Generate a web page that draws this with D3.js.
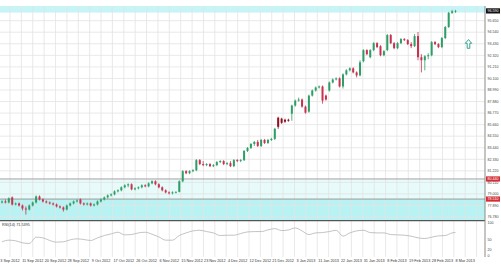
<!DOCTYPE html>
<html><head><meta charset="utf-8">
<script src="https://cdn.jsdelivr.net/npm/d3@7"></script>
<style>html,body{margin:0;padding:0;background:#fff;overflow:hidden}svg{display:block}</style>
</head><body><svg id="c" width="501" height="267"></svg>
<script>
// ---- data (USD/JPY daily) ----
const opens = [78.18,78.28,78.18,78.67,77.99,78.09,77.89,77.60,77.50,77.89,
78.18,78.76,78.47,78.28,78.18,78.09,77.99,77.80,77.70,77.50,
77.89,78.09,78.28,78.47,78.09,77.99,78.09,77.89,77.99,78.28,
78.47,78.67,78.86,78.96,79.25,79.35,79.64,79.83,79.93,79.44,
79.54,79.64,79.83,79.73,80.02,80.22,79.93,79.64,79.35,79.15,
79.06,79.15,79.20,80.22,81.19,80.99,81.19,81.28,82.25,81.87,
81.77,81.87,81.67,81.77,82.06,82.16,81.87,81.96,81.67,82.25,
82.16,82.25,83.13,83.42,83.80,84.00,83.61,84.19,83.90,84.19,
84.29,86.32,86.23,86.13,86.13,86.71,87.49,87.97,88.07,87.39,
86.91,88.45,88.94,89.23,89.33,88.45,88.94,89.71,90.00,90.10,
89.33,90.49,90.88,91.07,90.68,90.39,91.75,92.82,92.14,92.82,
93.49,93.20,92.33,92.82,94.27,93.49,93.01,93.49,93.88,93.78,
93.40,93.20,94.17,92.14,91.85,92.23,92.33,93.59,93.40,93.11,
93.98,95.04,96.40,96.55];
const highs = [78.38,78.47,78.67,78.76,78.18,78.18,77.99,77.80,77.99,78.28,
78.86,78.86,78.57,78.38,78.28,78.18,78.09,77.89,77.80,77.99,
78.18,78.38,78.47,78.57,78.18,78.18,78.18,78.09,78.38,78.57,
78.76,78.96,79.06,79.35,79.44,79.73,79.93,80.02,80.02,79.64,
79.73,79.93,79.93,80.12,80.31,80.31,80.02,79.73,79.44,79.25,
79.25,79.25,80.31,81.28,81.28,81.28,81.38,82.35,82.35,82.16,
81.96,81.96,81.87,82.16,82.25,82.25,82.06,82.16,82.35,82.35,
82.35,83.22,83.51,83.90,84.09,84.19,84.29,84.29,84.29,84.39,
85.35,86.42,86.32,86.23,86.23,87.58,88.07,88.26,88.17,87.49,
88.55,89.04,89.33,89.42,89.42,88.55,89.81,90.10,90.20,90.20,
90.59,90.98,91.17,91.17,90.78,91.85,92.91,92.91,92.91,93.59,
93.59,93.30,92.82,94.37,94.37,93.59,93.59,93.98,93.98,93.88,
93.59,94.37,94.56,92.43,92.33,92.52,93.69,93.69,93.49,94.07,
95.14,96.50,96.69,96.69];
const lows = [78.09,78.09,78.09,77.89,77.89,77.80,77.41,77.02,77.41,77.80,
78.09,78.38,78.18,78.09,77.99,77.89,77.70,77.60,77.31,77.41,
77.80,77.99,78.18,77.99,77.89,77.89,77.80,77.80,77.89,78.18,
78.38,78.57,78.76,78.86,79.15,79.25,79.54,79.64,79.35,79.35,
79.44,79.54,79.64,79.64,79.93,79.83,79.54,79.25,79.06,78.96,
78.96,79.06,79.15,80.12,80.90,80.90,81.09,81.19,81.77,81.67,
81.67,81.58,81.58,81.67,81.96,81.77,81.77,81.58,81.58,82.06,
82.06,82.16,83.03,83.32,83.61,83.51,83.51,83.80,83.80,84.09,
84.19,85.26,85.74,85.84,85.94,86.03,87.39,87.87,87.29,86.71,
86.81,88.36,88.84,89.13,87.68,87.97,88.84,89.62,89.91,89.23,
89.13,90.39,90.78,90.59,90.20,90.30,91.65,92.33,92.04,92.72,
93.01,92.23,92.23,92.72,93.40,92.91,92.91,93.40,93.69,93.30,
93.01,93.11,91.85,90.68,90.88,91.94,92.23,93.30,93.01,93.01,
93.88,94.95,96.30,96.40];
const closes = [78.28,78.18,78.57,77.99,78.09,77.89,77.60,77.50,77.89,78.18,
78.76,78.47,78.28,78.18,78.09,77.99,77.80,77.70,77.50,77.89,
78.09,78.28,78.38,78.09,77.99,78.09,77.89,77.99,78.28,78.47,
78.67,78.86,78.96,79.25,79.35,79.64,79.83,79.93,79.44,79.54,
79.64,79.83,79.73,80.02,80.22,79.93,79.64,79.35,79.15,79.06,
79.15,79.20,80.22,81.19,80.99,81.19,81.28,82.25,81.87,81.77,
81.87,81.67,81.77,82.06,82.16,81.87,81.96,81.67,82.25,82.16,
82.25,83.13,83.42,83.80,84.00,83.61,84.19,83.90,84.19,84.29,
85.26,85.45,85.84,85.94,86.03,87.49,87.97,88.07,87.39,86.81,
88.45,88.94,89.23,89.33,87.97,88.07,89.71,90.00,90.10,89.33,
90.49,90.88,91.07,90.68,90.39,91.65,92.82,92.43,92.82,93.49,
93.11,92.33,92.72,94.27,93.49,93.01,93.49,93.88,93.78,93.40,
93.20,94.17,92.14,91.85,92.23,92.33,93.59,93.40,93.11,93.98,
95.04,96.40,96.55,96.59];
// RSI(14), one reading every second session, last one on the final session
const rsiValues = [43,48,46,40,38,57,55,47,42,43,49,52,50,47,55,62,67,72,64,65,
70,72,66,58,48,48,62,70,76,78,74,70,62,63,63,68,73,74,74,79,
83,77,79,85,76,65,70,71,74,78,60,70,76,78,71,70,70,65,64,63,
60,55,53,57,61,62,70,71.54];
const rsiLabel = "RSI(14) 71.5395";
const priceTicks = [95.65,94.54,93.43,92.32,91.21,90.10,88.99,87.88,86.77,85.66,84.55,83.44,82.33,81.22,80.11,79.00,77.89,76.78];
const rsiTicks = [100,50,20,0];
const levels = [80.44,78.51];
const dateLabels = ["3 Sep 2012","11 Sep 2012","20 Sep 2012","28 Sep 2012","9 Oct 2012","17 Oct 2012","26 Oct 2012","6 Nov 2012","15 Nov 2012","23 Nov 2012","4 Dec 2012","12 Dec 2012","21 Dec 2012","3 Jan 2013","11 Jan 2013","22 Jan 2013","31 Jan 2013","8 Feb 2013","19 Feb 2013","28 Feb 2013","8 Mar 2013"];

// ---- layout ----
const plotR = 485, pTop = 6, pBot = 220.7, rBot = 257;
const svg = d3.select("#c");
const font = "'Liberation Sans', Arial, sans-serif";
const n = closes.length;
const x = d3.scaleLinear().domain([0, n - 1]).range([2, 455.5]);
const y = d3.scaleLinear().domain([76.43, 97.06]).range([pBot, pTop]);
const yr = d3.scaleLinear().domain([0, 100]).range([256, 223]);

// zones
svg.append("rect").attr("x", 0).attr("width", plotR).attr("y", y(97.06)).attr("height", y(96.43) - y(97.06)).attr("fill", "#c6f4f7");
svg.append("rect").attr("x", 0).attr("width", plotR).attr("y", y(levels[0])).attr("height", y(levels[1]) - y(levels[0])).attr("fill", "#e7fbfb");
svg.append("rect").attr("x", 0).attr("width", plotR).attr("y", y(levels[1])).attr("height", pBot - y(levels[1])).attr("fill", "#b9f2f2");

// grid
const g = svg.append("g").attr("stroke", "#e3e3e3").attr("stroke-width", 0.8);
const gridIdx = d3.range(0, 42).map(k => 2.346 + k * 3.3375);
gridIdx.forEach(i => {
  g.append("line").attr("x1", x(i)).attr("x2", x(i)).attr("y1", pTop).attr("y2", rBot);
});
priceTicks.forEach(t => {
  g.append("line").attr("x1", 0).attr("x2", plotR).attr("y1", y(t)).attr("y2", y(t));
});

// level lines
svg.append("line").attr("x1", 0).attr("x2", plotR).attr("y1", y(levels[0])).attr("y2", y(levels[0])).attr("stroke", "#a7a0a6").attr("stroke-width", 1);
svg.append("line").attr("x1", 0).attr("x2", plotR).attr("y1", y(levels[1])).attr("y2", y(levels[1])).attr("stroke", "#9a9a9a").attr("stroke-width", 1);

// candles
const dark = new Set([81, 82, 83, 84]);
const cg = svg.append("g");
for (let i = 0; i < n; i++) {
  const up = closes[i] >= opens[i];
  const col = dark.has(i) ? "#8e1020" : (up ? "#2f9e66" : "#c8324f");
  const cx = x(i);
  cg.append("line").attr("x1", cx).attr("x2", cx).attr("y1", y(highs[i])).attr("y2", y(lows[i])).attr("stroke", col).attr("stroke-width", 0.8);
  const top = y(Math.max(opens[i], closes[i])), bot = y(Math.min(opens[i], closes[i]));
  cg.append("rect").attr("x", cx - 1).attr("width", 2).attr("y", top).attr("height", Math.max(0.8, bot - top)).attr("fill", col);
}

// pane separator & axis line
svg.append("line").attr("x1", 0).attr("x2", plotR).attr("y1", pBot).attr("y2", pBot).attr("stroke", "#555").attr("stroke-width", 1.3);
svg.append("line").attr("x1", plotR).attr("x2", plotR).attr("y1", pTop).attr("y2", rBot).attr("stroke", "#8a8a8a").attr("stroke-width", 1);

// RSI line
const rsiIdx = rsiValues.map((v, j) => j < rsiValues.length - 1 ? j * 2 : n - 1);
const line = d3.line().x((d, j) => x(rsiIdx[j])).y(d => yr(d)).curve(d3.curveMonotoneX);
svg.append("path").attr("d", line(rsiValues)).attr("fill", "none").attr("stroke", "#b4b4b4").attr("stroke-width", 0.8);
svg.append("text").attr("x", 2).attr("y", 226).attr("font-family", font).attr("font-size", 3.8).attr("fill", "#333").text(rsiLabel);

// right axis labels
const ax = svg.append("g").attr("font-family", font).attr("font-size", 3.6).attr("fill", "#444");
priceTicks.forEach(t => {
  ax.append("text").attr("x", plotR + 2.5).attr("y", y(t)).attr("dy", "0.35em").text(t.toFixed(3));
});
rsiTicks.forEach(t => {
  ax.append("text").attr("x", plotR + 2.5).attr("y", yr(t)).attr("dy", "0.35em").text(t);
});
function tag(v, bg) {
  const yy = y(v);
  svg.append("rect").attr("x", plotR + 1).attr("y", yy - 2.6).attr("width", 14).attr("height", 5.2).attr("fill", bg);
  svg.append("text").attr("x", plotR + 2.5).attr("y", yy).attr("dy", "0.35em").attr("font-family", font).attr("font-size", 3.6).attr("fill", "#fff").text(v.toFixed(3));
}
tag(levels[0], "#d42b34");
tag(levels[1], "#d42b34");
tag(closes[n - 1], "#111");

// date labels
const dl = svg.append("g").attr("font-family", font).attr("font-size", 3.8).attr("fill", "#333").attr("text-anchor", "middle");
dateLabels.forEach((d, k) => {
  dl.append("text").attr("x", x(gridIdx[2 * k])).attr("y", 262).text(d);
});

// up arrow marker
svg.append("path")
  .attr("d", "M0,-4.5 L3.2,-0.8 L1.3,-0.8 L1.3,4.2 L-1.3,4.2 L-1.3,-0.8 L-3.2,-0.8 Z")
  .attr("transform", `translate(${x(n - 1) + 13},${y(93.4)})`)
  .attr("fill", "#fff").attr("stroke", "#1f9a86").attr("stroke-width", 0.9);
</script></body></html>
